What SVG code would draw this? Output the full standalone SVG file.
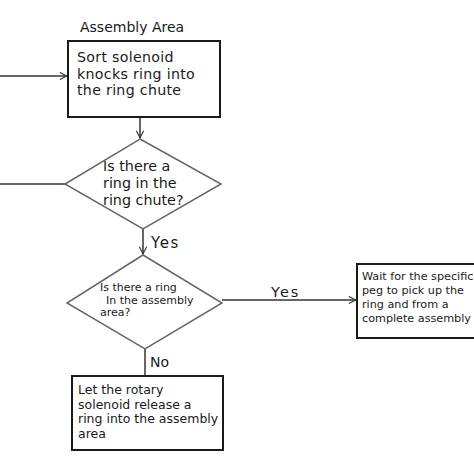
<svg xmlns="http://www.w3.org/2000/svg" width="474" height="474" viewBox="0 0 474 474">
<defs>
<style>
.t{font-family:"DejaVu Sans",Verdana,sans-serif;fill:#1a1a1a}
.box{fill:#fff;stroke:#1a1a1a;stroke-width:2}
.dia{fill:#fff;stroke:#666;stroke-width:1.5}
.ln{fill:none;stroke:#333;stroke-width:1.5}
</style>
<marker id="ah" viewBox="0 0 10 10" refX="9" refY="5" markerWidth="9" markerHeight="9" markerUnits="userSpaceOnUse" orient="auto">
<path d="M1,1 L9,5 L1,9" fill="none" stroke="#333" stroke-width="1.2"/>
</marker>
</defs>
<rect width="474" height="474" fill="#fff"/>
<text class="t" x="80" y="32" font-size="14">Assembly Area</text>
<g id="connectors">
<line class="ln" x1="0" y1="76" x2="67" y2="76" marker-end="url(#ah)"/>
<line class="ln" x1="140" y1="117" x2="140" y2="138" marker-end="url(#ah)"/>
<line class="ln" x1="0" y1="184" x2="66" y2="184"/>
<line class="ln" x1="143" y1="229" x2="143" y2="254" marker-end="url(#ah)"/>
<text class="t" x="151" y="248" font-size="15" letter-spacing="1.5">Yes</text>
<line class="ln" x1="222" y1="300" x2="356" y2="300" marker-end="url(#ah)"/>
<text class="t" x="271" y="297" font-size="14.5" letter-spacing="2">Yes</text>
<line class="ln" x1="145" y1="349" x2="145" y2="376"/>
<text class="t" x="150" y="367" font-size="14">No</text>
</g>
<g id="sort">
<rect class="box" x="68" y="41" width="152" height="76"/>
<text class="t" font-size="14.2" letter-spacing="0.3"><tspan x="77" y="62">Sort solenoid</tspan><tspan x="77" y="78.5">knocks ring into</tspan><tspan x="77" y="95">the ring chute</tspan></text>
</g>
<g id="chute">
<polygon class="dia" points="140,139 221,184 143,229 65,184"/>
<text class="t" font-size="14.3"><tspan x="103" y="171">Is there a</tspan><tspan x="103" y="188">ring in the</tspan><tspan x="103" y="205">ring chute?</tspan></text>
</g>
<g id="assembly-check">
<polygon class="dia" points="143,255 222,303 145,349 67,303"/>
<text class="t" font-size="11"><tspan x="100" y="291">Is there a ring</tspan><tspan x="106" y="304">In the assembly</tspan><tspan x="100" y="316">area?</tspan></text>
</g>
<g id="wait">
<rect class="box" x="357" y="264" width="125" height="74"/>
<text class="t" font-size="11.2"><tspan x="362" y="280">Wait for the specific</tspan><tspan x="362" y="294">peg to pick up the</tspan><tspan x="362" y="308">ring and from a</tspan><tspan x="362" y="322">complete assembly</tspan></text>
</g>
<g id="release">
<rect class="box" x="72" y="376" width="151" height="74"/>
<text class="t" font-size="12.5"><tspan x="78" y="394">Let the rotary</tspan><tspan x="78" y="408.5">solenoid release a</tspan><tspan x="78" y="423">ring into the assembly</tspan><tspan x="78" y="437.5">area</tspan></text>
</g>
</svg>
